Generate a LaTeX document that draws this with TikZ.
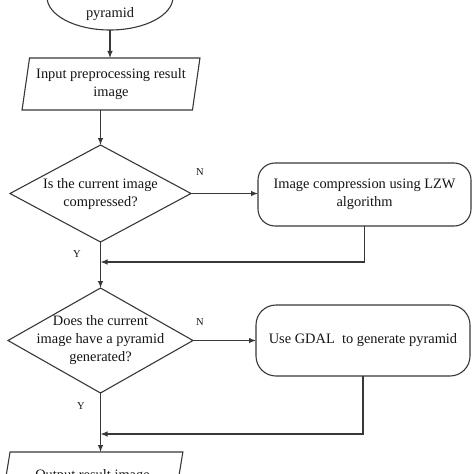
\documentclass[tikz,border=0pt]{standalone}
\usepackage{fontspec}
\setmainfont{Liberation Serif}
\usetikzlibrary{shapes.geometric,arrows.meta}
\begin{document}
\begin{tikzpicture}[x=1pt,y=-1pt,
  every node/.style={font=\fontsize{14.4}{18}\selectfont, text=black!92},
  line/.style={draw=black!78, line width=1.1pt},
  arr/.style={line, -{Latex[length=7pt,width=5.5pt]}},
  term/.style={ellipse, line, minimum width=126pt, minimum height=66pt, inner sep=0pt, outer sep=0pt},
  para/.style={trapezium, trapezium stretches=true, line, align=center, inner sep=0pt, outer sep=0pt},
  dec/.style={diamond, line, inner sep=0pt, outer sep=0pt},
  proc/.style={rectangle, line, align=center, inner sep=0pt, outer sep=0pt},
  lab/.style={font=\fontsize{10.5}{12}\selectfont, inner sep=0pt}
]
\useasboundingbox (0,0) rectangle (474,474);
\clip (0,0) rectangle (474,474);

\node[term] (start) at (110,-3) {\smash{\raisebox{-20pt}{pyramid}}};
\node[para, trapezium left angle=77.5, trapezium right angle=102.5,
      minimum width=178pt, minimum height=52pt] (in1) at (111,84)
      {Input preprocessing result\\image};
\node[dec, minimum width=181pt, minimum height=97pt,
      label={[align=center, inner sep=0pt, yshift=-1pt]center:Is the current image\\compressed?}] (d1) at (100.5,193.5) {};
\node[proc, rounded corners=17pt, minimum width=213pt, minimum height=63pt] (b1) at (364.5,194.5)
      {Image compression using LZW\\algorithm};
\node[dec, minimum width=185pt, minimum height=105pt,
      label={[align=center, inner sep=0pt]center:Does the current\\image have a pyramid\\generated?}] (d2) at (100.5,340.5) {};
\node[proc, rounded corners=20pt, minimum width=214pt, minimum height=71pt] (b2) at (363,340.5)
      {Use GDAL\ \ to generate pyramid};
\node[para, trapezium left angle=67.2, trapezium right angle=112.8,
      minimum width=181pt, minimum height=48pt] (out) at (92.5,476)
      {Output result image};

\coordinate (m1) at (100.5,262);
\coordinate (m2) at (100.5,434);

\draw[arr] (start.south) -- (start.south |- in1.north);
\draw[arr] (in1.south -| d1.north) -- (d1.north);
\draw[arr] (d1.east) -- (d1.east -| b1.west);
\draw[arr] (b1.south) |- (m1);
\draw[arr] (d1.south) -- (d2.north);
\draw[arr] (d2.east) -- (d2.east -| b2.west);
\draw[arr] (b2.south) |- (m2);
\draw[arr] (d2.south) -- (d2.south |- out.north);

\node[lab] (n1) at (200,172) {N};
\node[lab] (y1) at (77,254) {Y};
\node[lab] (n2) at (200,322) {N};
\node[lab] (y2) at (81,406) {Y};
\end{tikzpicture}
\end{document}
